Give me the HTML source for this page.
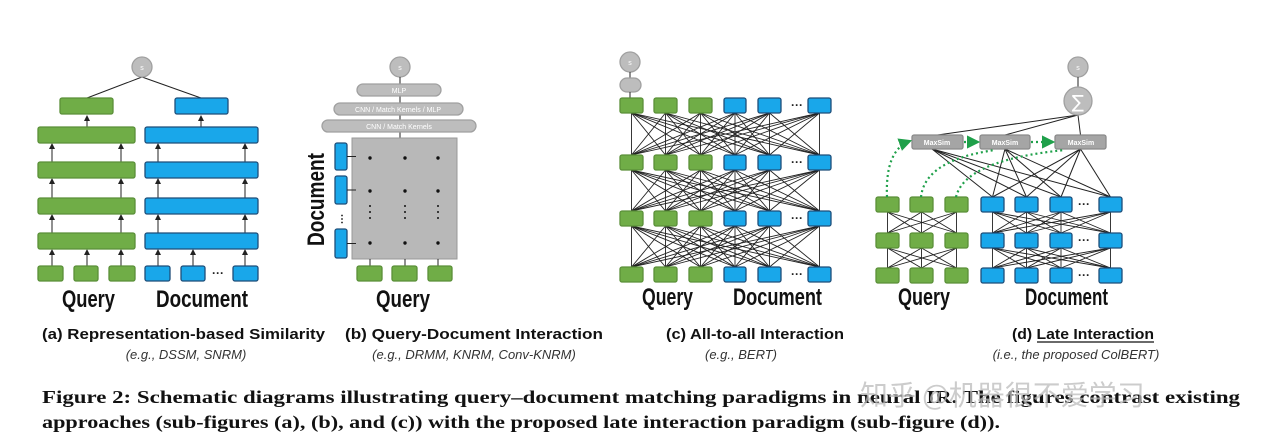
<!DOCTYPE html>
<html><head><meta charset="utf-8">
<style>
html,body{margin:0;padding:0;background:#fff;}
svg{display:block;}
.lbl{font-family:"Liberation Sans",sans-serif;font-weight:bold;fill:#111;}
.cap{font-family:"Liberation Sans",sans-serif;font-weight:bold;font-size:15px;fill:#111;}
.it{font-family:"Liberation Sans",sans-serif;font-style:italic;font-size:13px;fill:#333;}
.fig{font-family:"Liberation Serif",serif;font-weight:bold;font-size:18px;fill:#111;}
.gt{font-family:"Liberation Sans",sans-serif;font-size:7px;fill:#fff;}
</style></head>
<body>
<svg id="s" width="1269" height="448" viewBox="0 0 1269 448" xmlns="http://www.w3.org/2000/svg">
<defs>
<marker id="ar" markerWidth="6" markerHeight="6" refX="5" refY="3" orient="auto"><path d="M0,0 L6,3 L0,6 z" fill="#222"/></marker>
<marker id="ag" markerWidth="6" markerHeight="6" refX="5" refY="3" orient="auto"><path d="M0,0 L6,3 L0,6 z" fill="#1fa04a"/></marker>
</defs>
<g id="g"></g>
<g id="t">
<text class="gt" x="142" y="70" text-anchor="middle">s</text>
<text class="gt" x="400" y="70" text-anchor="middle">s</text>
<text class="gt" x="630" y="65" text-anchor="middle">s</text>
<text class="gt" x="1078" y="70" text-anchor="middle">s</text>
<text class="gt" x="399" y="93" text-anchor="middle">MLP</text>
<text class="gt" x="398" y="112" text-anchor="middle">CNN / Match Kernels / MLP</text>
<text class="gt" x="399" y="129" text-anchor="middle">CNN / Match Kernels</text>
<text x="1078" y="108" text-anchor="middle" font-family="DejaVu Sans,sans-serif" font-size="18" fill="#fff">∑</text>
<text class="gt" x="937" y="145" text-anchor="middle" font-size="10" font-weight="bold">MaxSim</text>
<text class="gt" x="1005" y="145" text-anchor="middle" font-size="10" font-weight="bold">MaxSim</text>
<text class="gt" x="1081" y="145" text-anchor="middle" font-size="10" font-weight="bold">MaxSim</text>
<text class="lbl" x="62" y="307" font-size="24" textLength="53" lengthAdjust="spacingAndGlyphs">Query</text>
<text class="lbl" x="156" y="307" font-size="24" textLength="92" lengthAdjust="spacingAndGlyphs">Document</text>
<text class="lbl" x="376" y="307" font-size="24" textLength="54" lengthAdjust="spacingAndGlyphs">Query</text>
<text class="lbl" font-size="24" textLength="93" lengthAdjust="spacingAndGlyphs" transform="translate(324,246) rotate(-90)">Document</text>
<text class="lbl" x="642" y="305" font-size="24" textLength="51" lengthAdjust="spacingAndGlyphs">Query</text>
<text class="lbl" x="733" y="305" font-size="24" textLength="89" lengthAdjust="spacingAndGlyphs">Document</text>
<text class="lbl" x="898" y="305" font-size="24" textLength="52" lengthAdjust="spacingAndGlyphs">Query</text>
<text class="lbl" x="1025" y="305" font-size="24" textLength="83" lengthAdjust="spacingAndGlyphs">Document</text>
<text class="cap" x="42" y="339" textLength="283" lengthAdjust="spacingAndGlyphs">(a) Representation-based Similarity</text>
<text class="cap" x="345" y="339" textLength="258" lengthAdjust="spacingAndGlyphs">(b) Query-Document Interaction</text>
<text class="cap" x="666" y="339" textLength="178" lengthAdjust="spacingAndGlyphs">(c) All-to-all Interaction</text>
<text class="cap" x="1012" y="339" textLength="142" lengthAdjust="spacingAndGlyphs">(d) Late Interaction</text>
<line x1="1037" y1="342" x2="1154" y2="342" stroke="#111" stroke-width="1.2"/>
<text class="it" x="186" y="359" text-anchor="middle">(e.g., DSSM, SNRM)</text>
<text class="it" x="474" y="359" text-anchor="middle">(e.g., DRMM, KNRM, Conv-KNRM)</text>
<text class="it" x="741" y="359" text-anchor="middle">(e.g., BERT)</text>
<text class="it" x="1076" y="359" text-anchor="middle">(i.e., the proposed ColBERT)</text>
<text class="fig" x="42" y="403" textLength="1198" lengthAdjust="spacingAndGlyphs">Figure 2: Schematic diagrams illustrating query–document matching paradigms in neural IR. The figures contrast existing</text>
<text class="fig" x="42" y="428" textLength="958" lengthAdjust="spacingAndGlyphs">approaches (sub-figures (a), (b), and (c)) with the proposed late interaction paradigm (sub-figure (d)).</text>
<text x="860" y="405" font-family="Noto Sans CJK SC,sans-serif" font-size="28" fill="#bbb" fill-opacity="0.75">知乎 @机器很不爱学习</text>
</g>
</svg>
<script>
var G=document.getElementById('g'),h='';
var GR='fill="#70ad47" stroke="#5a8f38"',BL='fill="#19a7ea" stroke="#1f4e79"',GY='fill="#bdbdbd" stroke="#a0a0a0"';
function r(x1,y1,x2,y2,c,rx){h+='<rect x="'+x1+'" y="'+y1+'" width="'+(x2-x1)+'" height="'+(y2-y1)+'" rx="'+(rx==null?2:rx)+'" '+c+' stroke-width="1.3"/>';}
function l(x1,y1,x2,y2,a,w){h+='<line x1="'+x1+'" y1="'+y1+'" x2="'+x2+'" y2="'+y2+'" stroke="#222" stroke-width="'+(w||1)+'"'+(a?' marker-end="url(#ar)"':'')+'/>';}
function c(x,y,rr){h+='<circle cx="'+x+'" cy="'+y+'" r="'+rr+'" '+GY+' stroke-width="1.3"/>';}
function d(x,y){h+='<circle cx="'+x+'" cy="'+y+'" r="1.7" fill="#111"/>';}
function dots(x,y){h+='<text x="'+x+'" y="'+y+'" font-family="Liberation Sans" font-size="12" font-weight="bold" fill="#222">···</text>';}
// (a)
var rows=[127,162,198,233];
l(142,77,87,98);l(142,77,201,98);
l(87,127,87,116,1);l(201,127,201,116,1);
for(var i=0;i<4;i++){var y=rows[i],nb=i<3?rows[i+1]:266;
 l(52,nb,52,y+17,1);l(121,nb,121,y+17,1);l(158,nb,158,y+17,1);l(245,nb,245,y+17,1);}
l(87,266,87,250,1);l(193,266,193,250,1);
c(142,67,10);
r(60,98,113,114,GR);r(175,98,228,114,BL);
rows.forEach(function(y){r(38,y,135,y+16,GR);r(145,y,258,y+16,BL);});
[[38,63],[74,98],[109,135]].forEach(function(p){r(p[0],266,p[1],281,GR);});
[[145,170],[181,205],[233,258]].forEach(function(p){r(p[0],266,p[1],281,BL);});
dots(212,277);
// (b)
c(400,67,10);l(400,77,400,84);l(400,96,400,103);l(400,115,400,120);l(400,132,400,138);
r(357,84,441,96,GY,6);r(334,103,463,115,GY,6);r(322,120,476,132,GY,6);
h+='<rect x="352" y="138" width="105" height="121" fill="#b8b8b8" stroke="#999"/>';
[[143,170],[176,204],[229,258]].forEach(function(p){r(335,p[0],347,p[1],BL);l(347,(p[0]+p[1])/2,356,(p[0]+p[1])/2);});
h+='<text x="337" y="222" font-size="10" font-weight="bold" font-family="Liberation Sans">⋮</text>';
[370,405,438].forEach(function(x){[158,191,243].forEach(function(y){d(x,y);});
 [206,212,218].forEach(function(y){h+='<circle cx="'+x+'" cy="'+y+'" r="1" fill="#111"/>';});
 l(x,266,x,259);});
[[357,382],[392,417],[428,452]].forEach(function(p){r(p[0],266,p[1],281,GR);});
// (c)
var cx=[[620,643],[654,677],[689,712],[724,746],[758,781],[808,831]],cy=[98,155,211,267];
c(630,62,10);l(630,72,630,78);r(620,78,641,92,GY,7);l(630,92,630,98);
for(var k=0;k<3;k++){cx.forEach(function(a){cx.forEach(function(b){l((a[0]+a[1])/2,cy[k]+15,(b[0]+b[1])/2,cy[k+1],0,0.9);});});}
cy.forEach(function(y){cx.forEach(function(p,i){r(p[0],y,p[1],y+15,i<3?GR:BL);});dots(791,y+11);});
// (d)
var qx=[[876,899],[910,933],[945,968]],dx=[[981,1004],[1015,1038],[1050,1072],[1099,1122]],ry=[197,233,268];
var ms=[[912,963],[980,1030],[1055,1106]];
ms.forEach(function(m){l(1078,115,(m[0]+m[1])/2,135);dx.forEach(function(p){l(m[0]+ (m===ms[0]?20:(m[1]-m[0])/2),149,(p[0]+p[1])/2,197);});});
function mesh(xs,top,bot){xs.forEach(function(a){xs.forEach(function(b){l((a[0]+a[1])/2,top,(b[0]+b[1])/2,bot,0,0.9);});});}
for(var k=0;k<2;k++){mesh(qx,ry[k]+15,ry[k+1]);mesh(dx,ry[k]+15,ry[k+1]);}
c(1078,67,10);l(1078,77,1078,87);c(1078,101,14);
ms.forEach(function(m){r(m[0],135,m[1],149,'fill="#a5a5a5" stroke="#8a8a8a"',2);});
ry.forEach(function(y){qx.forEach(function(p){r(p[0],y,p[1],y+15,GR);});dx.forEach(function(p){r(p[0],y,p[1],y+15,BL);});dots(1078,y+11);});
var gs='fill="none" stroke="#1fa04a" stroke-width="2.2" stroke-dasharray="2,3" marker-end="url(#ag)"';
h+='<path d="M887,197 Q885,150 910,141" '+gs+'/>';
h+='<path d="M921,197 Q925,160 995,150" fill="none" stroke="#1fa04a" stroke-width="2.2" stroke-dasharray="2,3"/>';
h+='<path d="M956,197 Q965,160 1065,150" fill="none" stroke="#1fa04a" stroke-width="2.2" stroke-dasharray="2,3"/>';
h+='<path d="M964,142 L978,142" '+gs+'/>';
h+='<path d="M1031,142 L1053,142" '+gs+'/>';
G.innerHTML=h;
</script>
</body></html>
